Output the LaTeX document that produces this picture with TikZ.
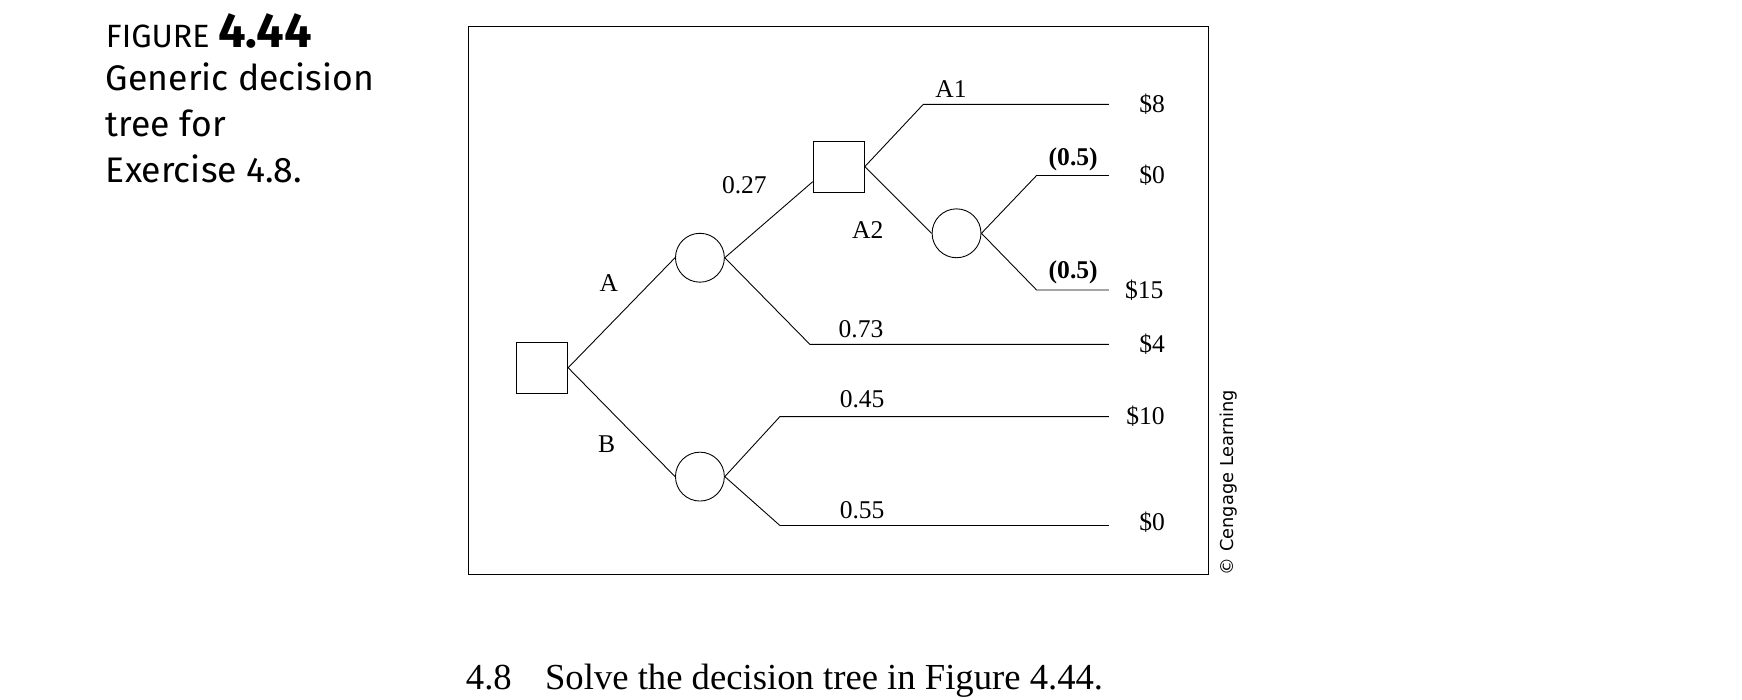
\documentclass[tikz,border=0pt]{standalone}
\usepackage{fontspec}
\setmainfont{Liberation Serif}
\newfontfamily\capfont{Fira Sans}
\newfontfamily\credfont{DejaVu Sans}
\begin{document}
\begin{tikzpicture}[x=0.5pt,y=-0.5pt,
  dec/.style={draw,thin,minimum size=23pt,inner sep=0pt},
  chance/.style={draw,thin,circle,minimum size=22pt,inner sep=0pt},
  lbl/.style={font=\fontsize{11.5}{12}\selectfont,inner sep=1pt},
  br/.style={draw,thin}]
\useasboundingbox (0,0) rectangle (1568,630);
\fill[white] (0,0) rectangle (1568,630);
\draw[thin] (422,24) rectangle (1088,517);
% left caption
\node[anchor=base west,inner sep=0pt,font=\capfont\fontsize{14.5}{16}\selectfont] (fig) at (95,43) {FIGURE \textbf{\fontsize{22}{22}\selectfont 4.44}};
\node[anchor=north west,align=left,inner sep=0pt,font=\capfont\fontsize{16}{20.7}\selectfont] (cap) at (95,56) {Generic decision\\tree for\\Exercise 4.8.};
% nodes
\node[dec] (root) at (488,331) {};
\node[chance] (ca) at (630,232) {};
\node[chance] (cb) at (630,429) {};
\node[dec] (da) at (755,150) {};
\node[chance] (c2) at (861,210) {};
\coordinate (a1s) at (831,94); \coordinate (a1e) at (998,94);
\coordinate (p1s) at (933,158); \coordinate (p1e) at (998,158);
\coordinate (p2s) at (933,261); \coordinate (p2e) at (998,261);
\coordinate (qs) at (729,310); \coordinate (qe) at (998,310);
\coordinate (bs) at (702,375); \coordinate (be) at (998,375);
\coordinate (cs) at (702,473); \coordinate (ce) at (998,473);
\draw[br] (root.east) -- (ca.west);
\draw[br] (root.east) -- (cb.west);
\draw[br] (ca.east) -- (da.-150);
\draw[br] (da.east) -- (a1s) -- (a1e);
\draw[br] (da.east) -- (c2.west);
\draw[br] (c2.east) -- (p1s) -- (p1e);
\draw[br] (c2.east) -- (p2s) -- (p2e);
\draw[br] (ca.east) -- (qs) -- (qe);
\draw[br] (cb.east) -- (bs) -- (be);
\draw[br] (cb.east) -- (cs) -- (ce);
% labels
\node[lbl] (lA) at (548,255) {A};
\node[lbl] (lB) at (546,400) {B};
\node[lbl] (l27) at (670,167) {0.27};
\node[lbl] (lA1) at (856,80) {A1};
\node[lbl] (lA2) at (781,207) {A2};
\node[lbl] (lp1) at (966,143) {\textbf{(0.5)}};
\node[lbl] (lp2) at (966,245) {\textbf{(0.5)}};
\node[lbl] (l73) at (775,296) {0.73};
\node[lbl] (l45) at (776,359) {0.45};
\node[lbl] (l55) at (776,459) {0.55};
\node[lbl] (v8) at (1037,94) {\$8};
\node[lbl] (v0a) at (1037,158) {\$0};
\node[lbl] (v15) at (1030,261) {\$15};
\node[lbl] (v4) at (1037,310) {\$4};
\node[lbl] (v10) at (1031,375) {\$10};
\node[lbl] (v0b) at (1037,470) {\$0};
\node[rotate=90,anchor=west,inner sep=0pt,font=\credfont\fontsize{8}{9}\selectfont] (cred) at (1106,518) {© Cengage Learning};
\node[anchor=base west,inner sep=0pt,font=\fontsize{16.5}{17}\selectfont] (ex) at (419,621) {4.8\hspace{15pt}Solve the decision tree in Figure 4.44.};
\end{tikzpicture}
\end{document}
